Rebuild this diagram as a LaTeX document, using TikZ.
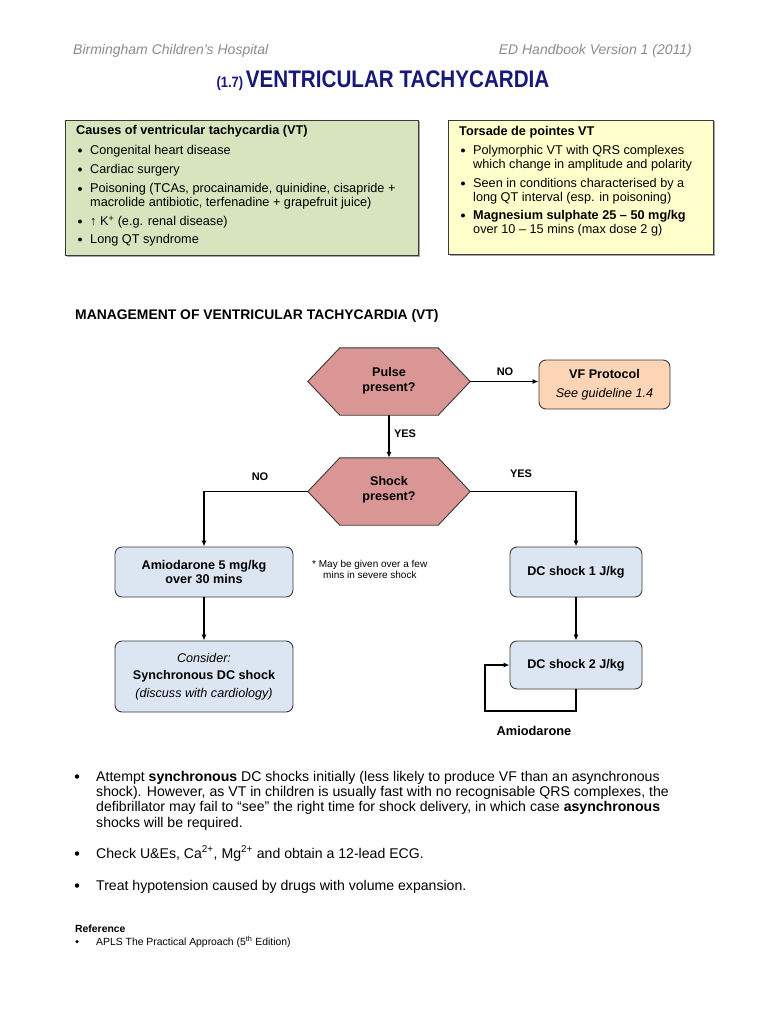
\documentclass[tikz,border=0pt]{standalone}
\usepackage{fontspec}
\setmainfont{Liberation Sans}
\newfontfamily\narrowfont[FakeStretch=0.86]{Liberation Sans}
\usetikzlibrary{arrows.meta,calc}
\definecolor{hexfill}{HTML}{D99694}
\definecolor{vffill}{HTML}{FBD5B5}
\definecolor{bluefill}{HTML}{DCE6F2}
\definecolor{greenfill}{HTML}{D7E4BD}
\definecolor{yellowfill}{HTML}{FFFFCC}
\definecolor{navy}{RGB}{24,24,120}
\definecolor{headgray}{HTML}{8C8C8C}
\definecolor{edge}{HTML}{3A3A3A}
\tikzset{
  txt/.style={inner sep=0pt, anchor=base west},
  boxtxt/.style={txt, font=\fontsize{12.7}{14}\selectfont},
  dot/.style={circle, fill=black, inner sep=0pt, minimum size=4pt},
  bodytxt/.style={txt, font=\fontsize{14.1}{15}\selectfont},
  infobox/.style={draw=edge, line width=0.9pt, inner sep=0pt},
  flowbox/.style={draw=edge, line width=0.9pt, rounded corners=7pt, inner sep=0pt, fill=bluefill,
                  align=center, font=\fontsize{12.6}{14.5}\selectfont\bfseries},
  hexframe/.style={inner sep=0pt, minimum width=162pt, minimum height=67pt},
  hexdraw/.style={draw=edge, line width=0.9pt, fill=hexfill},
  hextxt/.style={align=center, inner sep=0pt, font=\fontsize{12.6}{15.5}\selectfont\bfseries},
  conn/.style={draw=black, line width=1.2pt, -{Latex[length=6pt,width=5pt]}},
  lbl/.style={inner sep=0pt, font=\fontsize{11}{12}\selectfont\bfseries},
}
\begin{document}
\begin{tikzpicture}[x=1pt,y=-1pt]
\useasboundingbox[fill=white] (0,0) rectangle (768,1024);

% header
\node[txt, text=headgray, font=\fontsize{14}{16}\selectfont\itshape] (hl) at (73,55) {Birmingham Children’s Hospital};
\node[inner sep=0pt, anchor=base east, text=headgray, font=\fontsize{14}{16}\selectfont\itshape] (hr) at (692,55) {ED Handbook Version 1 (2011)};
\node[inner sep=0pt, anchor=base, text=navy] (title) at (383,88)
  {{\fontsize{15}{16}\narrowfont\bfseries (1.7)} {\fontsize{24}{26}\narrowfont\bfseries VENTRICULAR TACHYCARDIA}};

% causes box
\fill[gray!70] (66.5,121.5) rectangle (419.5,256.5);
\node[infobox, fill=greenfill, minimum width=353pt, minimum height=135pt] (causes) at (241.5,187.5) {};
\node[boxtxt, font=\fontsize{12.7}{14}\selectfont\bfseries] (c0) at (76,134.5) {Causes of ventricular tachycardia (VT)};
\node[dot] (c1d) at (80,150.5) {};
\node[boxtxt] (c1) at (90,154.5) {Congenital heart disease};
\node[dot] (c2d) at (80,169.5) {};
\node[boxtxt] (c2) at (90,173.5) {Cardiac surgery};
\node[dot] (c3d) at (80,189) {};
\node[boxtxt] (c3) at (90,193) {Poisoning (TCAs, procainamide, quinidine, cisapride +};
\node[boxtxt] (c3b) at (90,206.5) {macrolide antibiotic, terfenadine + grapefruit juice)};
\node[dot] (c4d) at (80,221.5) {};
\node[boxtxt] (c4) at (90,225.5) {↑ K\textsuperscript{+} (e.g. renal disease)};
\node[dot] (c5d) at (80,239.5) {};
\node[boxtxt] (c5) at (90,243.5) {Long QT syndrome};

% torsade box
\fill[gray!70] (449.5,121.5) rectangle (714.5,255.5);
\node[infobox, fill=yellowfill, minimum width=265pt, minimum height=134pt] (tdp) at (580.5,187) {};
\node[boxtxt, font=\fontsize{12.7}{14}\selectfont\bfseries] (t0) at (459,135.5) {Torsade de pointes VT};
\node[dot] (t1d) at (463,150.5) {};
\node[boxtxt] (t1) at (473,154.5) {Polymorphic VT with QRS complexes};
\node[boxtxt] (t1b) at (473,168.5) {which change in amplitude and polarity};
\node[dot] (t2d) at (463,183.5) {};
\node[boxtxt] (t2) at (473,187.5) {Seen in conditions characterised by a};
\node[boxtxt] (t2b) at (473,201.5) {long QT interval (esp. in poisoning)};
\node[dot] (t3d) at (463,215.5) {};
\node[boxtxt, font=\fontsize{12.7}{14}\selectfont\bfseries] (t3) at (473,219.5) {Magnesium sulphate 25 – 50 mg/kg};
\node[boxtxt] (t3b) at (473,233.5) {over 10 – 15 mins (max dose 2 g)};

% management heading
\node[txt, font=\fontsize{13.9}{15}\selectfont\bfseries] (mh) at (75,319) {MANAGEMENT OF VENTRICULAR TACHYCARDIA (VT)};

% flowchart
\node[hexframe] (pulse) at (389,381.5) {};
\draw[hexdraw] (pulse.west) -- ($(pulse.north west)+(32,0)$) -- ($(pulse.north east)+(-32,0)$)
  -- (pulse.east) -- ($(pulse.south east)+(-32,0)$) -- ($(pulse.south west)+(32,0)$) -- cycle;
\node[hextxt] (pulselbl) at (389,380.5) {Pulse\\present?};

\node[hexframe] (shock) at (389,491.5) {};
\draw[hexdraw] (shock.west) -- ($(shock.north west)+(32,0)$) -- ($(shock.north east)+(-32,0)$)
  -- (shock.east) -- ($(shock.south east)+(-32,0)$) -- ($(shock.south west)+(32,0)$) -- cycle;
\node[hextxt] (shocklbl) at (389,489.5) {Shock\\present?};

\node[flowbox, fill=vffill, minimum width=131pt, minimum height=49pt, font=\fontsize{12.6}{18.5}\selectfont] (vf) at (604.5,384.5)
  {\bfseries VF Protocol\\\itshape See guideline 1.4};

\node[flowbox, minimum width=178pt, minimum height=50pt] (amio) at (204,572) {Amiodarone 5 mg/kg\\over 30 mins};
\node[flowbox, minimum width=178pt, minimum height=71pt, font=\fontsize{12.6}{17.5}\selectfont] (cons) at (204,676.5)
  {\itshape Consider:\\\bfseries Synchronous DC shock\\\itshape (discuss with cardiology)};
\node[flowbox, minimum width=132pt, minimum height=50pt] (dc1) at (576,572) {DC shock 1 J/kg};
\node[flowbox, minimum width=132pt, minimum height=48pt] (dc2) at (576,665) {DC shock 2 J/kg};

\node[txt, font=\fontsize{10}{11}\selectfont] (note1) at (312,567.5) {* May be given over a few};
\node[txt, font=\fontsize{10}{11}\selectfont] (note2) at (323,578.5) {mins in severe shock};

% connectors
\draw[conn] (pulse.east) -- (pulse.east -| vf.west);
\draw[conn] (pulse.south) -- (shock.north);
\draw[conn] (shock.west) -| (amio.north);
\draw[conn] (shock.east) -| (dc1.north);
\draw[conn] (amio.south) -- (cons.north);
\draw[conn] (dc1.south) -- (dc2.north);
\coordinate (loopc) at (485,711);
\draw[conn] (dc2.south) |- (loopc) |- (dc2.west);

% connector labels
\node[lbl] (nolbl1) at (505,372) {NO};
\node[lbl] (yeslbl1) at (405,434) {YES};
\node[lbl] (nolbl2) at (260,477) {NO};
\node[lbl] (yeslbl2) at (521,474) {YES};
\node[inner sep=0pt, font=\fontsize{12.8}{14}\selectfont\bfseries] (amiolbl) at (534,731) {Amiodarone};

% bottom bullets
\node[dot, minimum size=4.5pt] (b1d) at (77,776.5) {};
\node[bodytxt] (b1) at (96,781) {Attempt \textbf{synchronous} DC shocks initially (less likely to produce VF than an asynchronous};
\node[bodytxt] (b1b) at (96,796.5) {shock). However, as VT in children is usually fast with no recognisable QRS complexes, the};
\node[bodytxt] (b1c) at (96,811.5) {defibrillator may fail to “see” the right time for shock delivery, in which case \textbf{asynchronous}};
\node[bodytxt] (b1e) at (96,827) {shocks will be required.};
\node[dot, minimum size=4.5pt] (b2d) at (77,853.5) {};
\node[bodytxt] (b2) at (96,858) {Check U\&Es, Ca\textsuperscript{2+}, Mg\textsuperscript{2+} and obtain a 12-lead ECG.};
\node[dot, minimum size=4.5pt] (b3d) at (77,885.5) {};
\node[bodytxt] (b3) at (96,890) {Treat hypotension caused by drugs with volume expansion.};

% reference
\node[txt, font=\fontsize{10.4}{12}\selectfont\bfseries] (refh) at (75,932) {Reference};
\node[dot, minimum size=3.5pt] (r1d) at (77,941.5) {};
\node[txt, font=\fontsize{10.4}{12}\selectfont] (r1) at (96,945) {APLS The Practical Approach (5\textsuperscript{th} Edition)};
\end{tikzpicture}
\end{document}
